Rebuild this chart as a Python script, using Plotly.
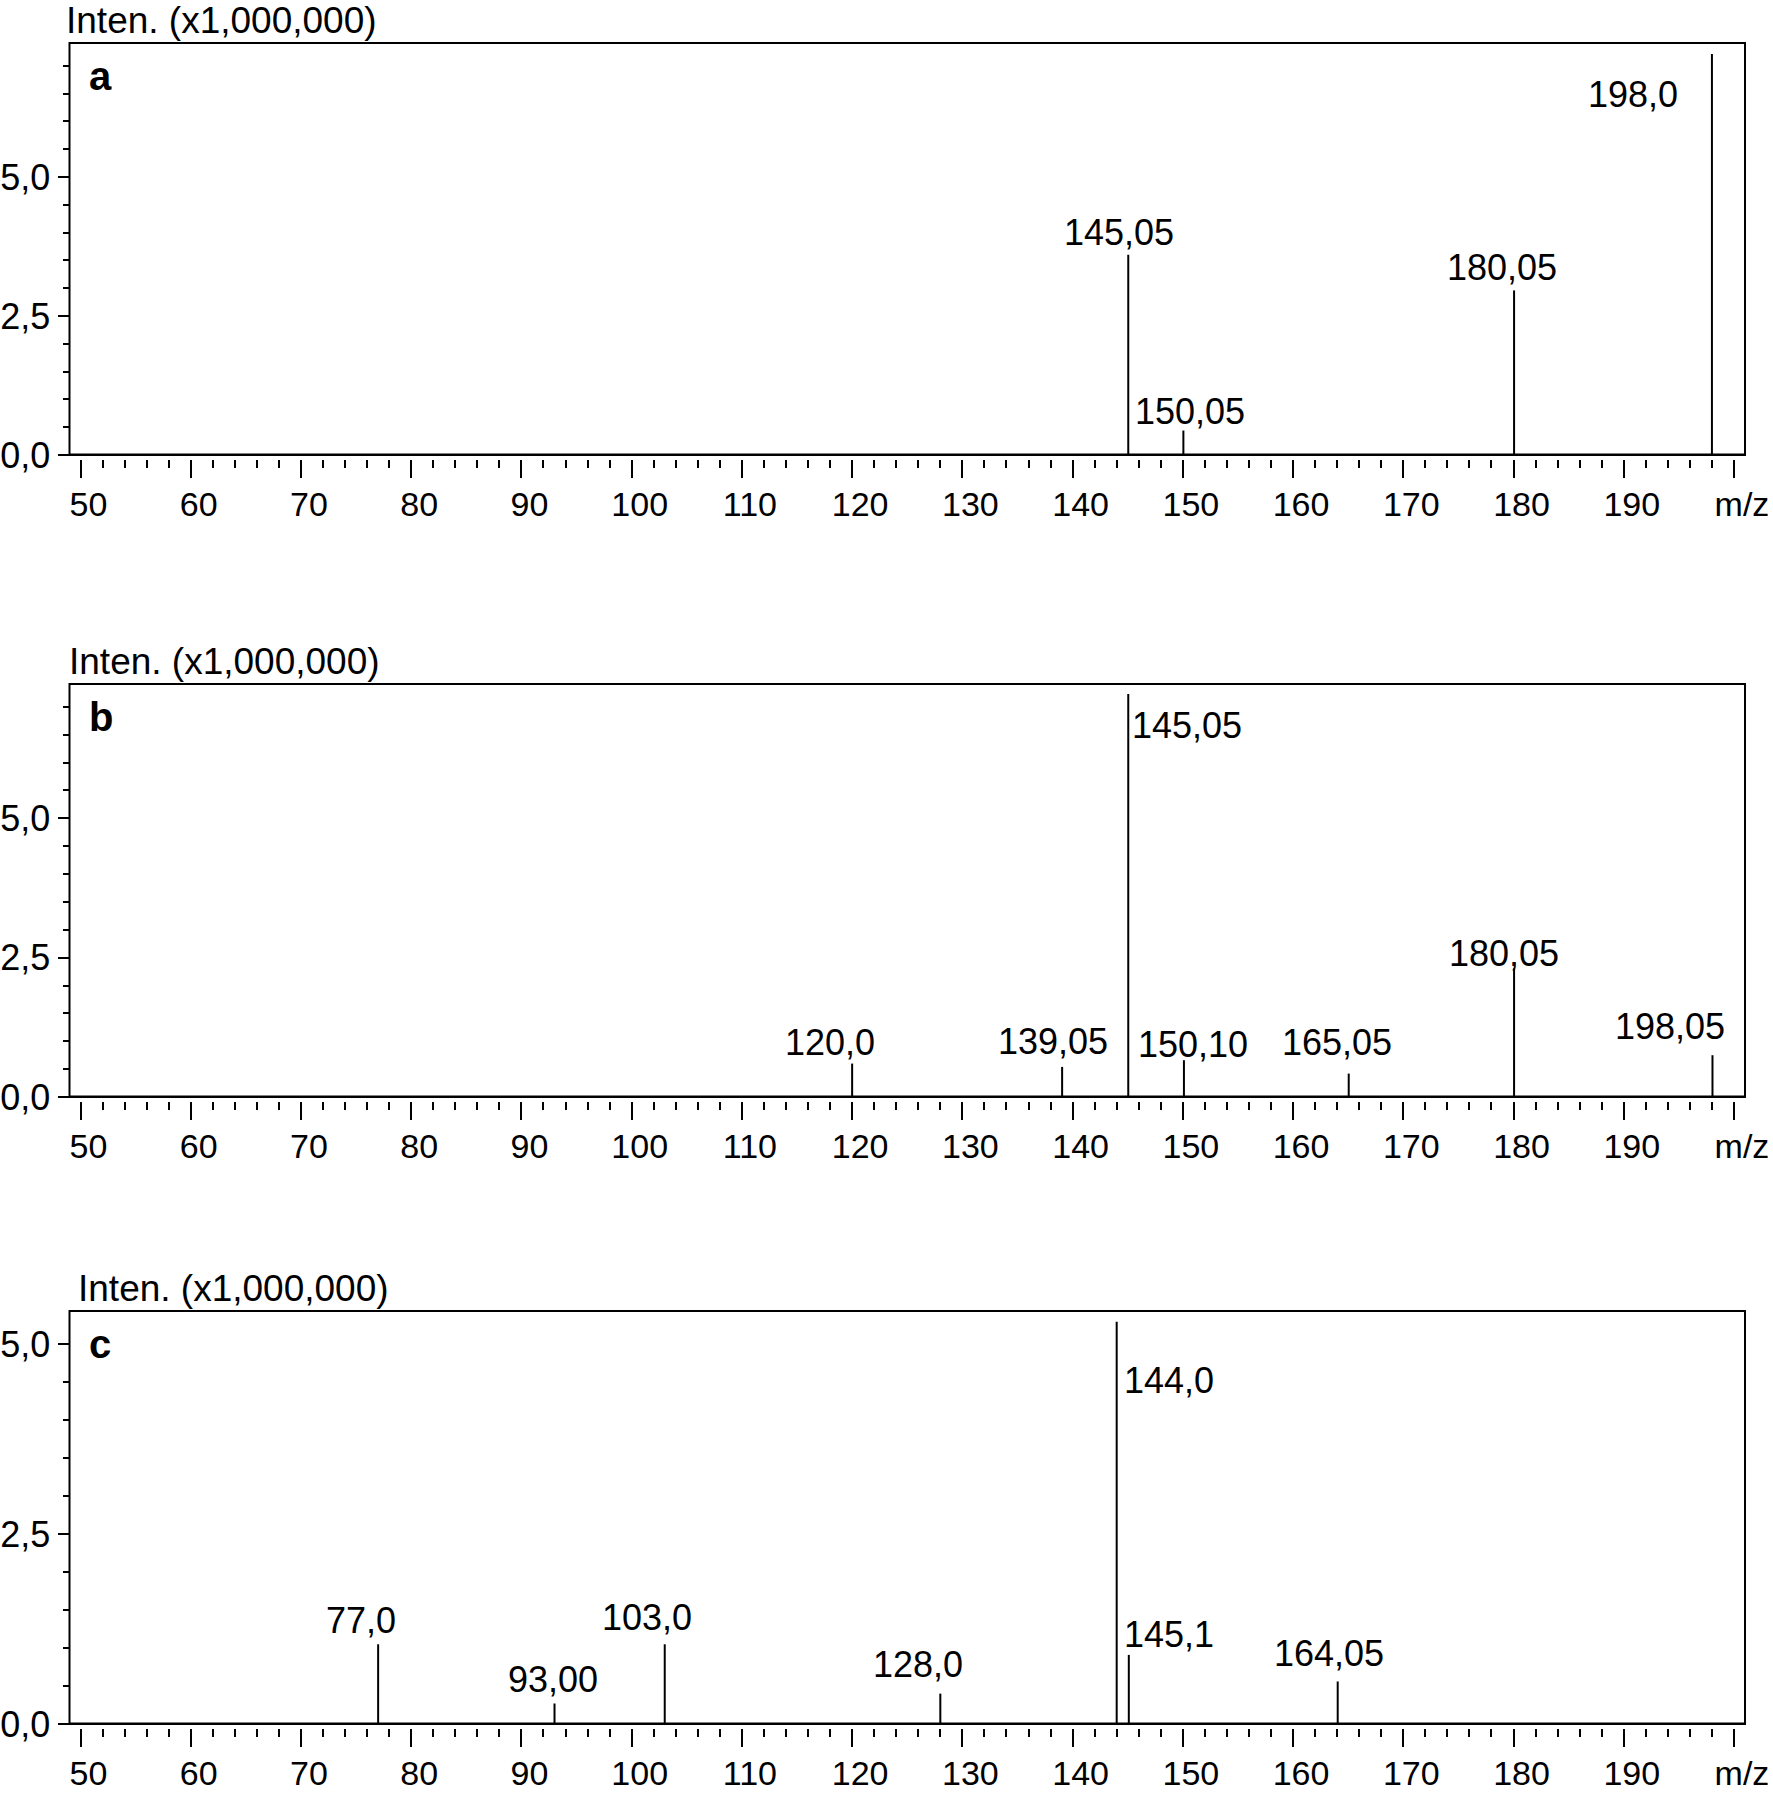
import plotly.graph_objects as go

# ---- data (intensity in units of 1,000,000) ----
mz_a = [145.05, 150.05, 180.05, 198.0]
int_a = [3.60, 0.44, 2.96, 7.21]
lbl_a = ["145,05", "150,05", "180,05", "198,0"]

mz_b = [120.0, 139.05, 145.05, 150.10, 165.05, 180.05, 198.05]
int_b = [0.60, 0.54, 7.23, 0.66, 0.42, 2.31, 0.75]
lbl_b = ["120,0", "139,05", "145,05", "150,10", "165,05", "180,05", "198,05"]

mz_c = [77.0, 93.0, 103.0, 128.0, 144.0, 145.1, 164.05]
int_c = [1.05, 0.27, 1.05, 0.40, 5.30, 0.91, 0.56]
lbl_c = ["77,0", "93,00", "103,0", "128,0", "144,0", "145,1", "164,05"]

x_tickvals = [50, 60, 70, 80, 90, 100, 110, 120, 130, 140, 150, 160, 170, 180, 190, 200]
x_ticktext = ["50", "60", "70", "80", "90", "100", "110", "120", "130", "140",
              "150", "160", "170", "180", "190", "m/z"]
y_tickvals = [0, 2.5, 5.0]
y_ticktext = ["0,0", "2,5", "5,0"]
y_max = [7.41, 7.41, 5.44]
panel_names = ["a", "b", "c"]
y_title = "Inten. (x1,000,000)"

# ---- label placement (style only): mode, x shift px, gap px ----
place_a = [("up", -9, 9), ("up", 7, 6), ("up", -12, 9), ("left", -33, 26)]
place_b = [("up", -22, 8), ("up", -9, 12), ("in", 3, 17), ("up", 9, 2),
           ("up", -12, 18), ("up", -10, 1), ("up", -42, 15)]
place_c = [("up", -17, 10), ("up", -2, 11), ("up", -18, 13), ("up", -22, 16),
           ("in", 6, 44), ("upl", -6, 7), ("up", -9, 14)]

W, H = 1773, 1795
FONT = "Arial, 'Liberation Sans', sans-serif"
# pixel boxes of the three panels (top, bottom)
boxes = [(43, 455), (684, 1097), (1311, 1724)]
x_left, x_right = 69.5, 1745
title_dx = [-4.5, -1.5, 7.5]

DESC = 8   # box bottom -> text baseline
ASC = 7    # box top -> cap top

panels = [(mz_a, int_a, lbl_a, place_a),
          (mz_b, int_b, lbl_b, place_b),
          (mz_c, int_c, lbl_c, place_c)]

fig = go.Figure()
annotations = []
shapes = []

for i, (mz, inten, lbls, place) in enumerate(panels):
    n = "" if i == 0 else str(i + 1)
    xa, ya = "x" + n, "y" + n
    top, bot = boxes[i]
    ydom = [1 - bot / H, 1 - top / H]

    xs, ys = [], []
    for m, v in zip(mz, inten):
        xs += [m, m, None]
        ys += [0, v, None]
    fig.add_trace(go.Scatter(x=xs, y=ys, mode="lines", xaxis=xa, yaxis=ya,
                             line=dict(color="black", width=2),
                             hoverinfo="skip", showlegend=False))

    fig.update_layout(**{
        "xaxis" + n: dict(
            domain=[x_left / W, x_right / W], range=[49, 201],
            anchor="free", position=1 - (bot + 4) / H,
            showline=False, showgrid=False, zeroline=False,
            tickvals=x_tickvals, ticktext=x_ticktext,
            ticks="outside", ticklen=18, tickwidth=2, tickcolor="black",
            minor=dict(dtick=2, tick0=50, ticks="outside", ticklen=8,
                       tickwidth=2, tickcolor="black", showgrid=False),
            tickfont=dict(family=FONT, size=34, color="black"),
            ticklabelshift=8, ticklabelstandoff=-3,
            ticklabeloverflow="allow",
            automargin=False, fixedrange=True),
        "yaxis" + n: dict(
            domain=ydom, range=[0, y_max[i]], anchor=xa,
            showline=False, showgrid=False, zeroline=False,
            tickvals=y_tickvals, ticktext=y_ticktext,
            ticks="outside", ticklen=11, tickwidth=2, tickcolor="black",
            minor=dict(dtick=0.5, tick0=0, ticks="outside", ticklen=6,
                       tickwidth=2, tickcolor="black", showgrid=False),
            tickfont=dict(family=FONT, size=36, color="black"),
            ticklabelstandoff=0, ticklabeloverflow="allow",
            automargin=False, fixedrange=True),
    })

    # frame and baseline
    shapes.append(dict(type="rect", xref=xa + " domain", yref=ya + " domain",
                       x0=0, x1=1, y0=0, y1=1, line=dict(color="black", width=2)))
    shapes.append(dict(type="line", xref=xa + " domain", yref=ya,
                       x0=0, x1=1, y0=0, y1=0, line=dict(color="black", width=3)))

    # axis title above the frame
    annotations.append(dict(text=y_title, xref=xa + " domain", yref=ya + " domain",
                            x=0, y=1, xanchor="left", yanchor="bottom",
                            xshift=title_dx[i], yshift=1, showarrow=False,
                            borderpad=0,
                            font=dict(family=FONT, size=37, color="black")))
    # panel letter
    annotations.append(dict(text="<b>" + panel_names[i] + "</b>",
                            xref=xa + " domain", yref=ya + " domain",
                            x=0, y=1, xanchor="left", yanchor="top",
                            xshift=18.5, yshift=-10, showarrow=False, borderpad=0,
                            font=dict(family=FONT, size=40, color="black")))

    # peak labels
    for m, v, t, (mode, dx, gap) in zip(mz, inten, lbls, place):
        a = dict(text=t, x=m, y=v, xref=xa, yref=ya, showarrow=False,
                 borderpad=0, font=dict(family=FONT, size=36, color="black"),
                 xshift=dx)
        if mode == "up":
            a.update(xanchor="center", yanchor="bottom", yshift=gap - DESC)
        elif mode == "upl":
            a.update(xanchor="left", yanchor="bottom", yshift=gap - DESC)
        elif mode == "in":
            a.update(xanchor="left", yanchor="top", yshift=-(gap - ASC))
        else:
            a.update(xanchor="right", yanchor="top", yshift=-(gap - ASC))
        annotations.append(a)

fig.update_layout(width=W, height=H,
                  margin=dict(l=0, r=0, t=0, b=0),
                  paper_bgcolor="white", plot_bgcolor="white",
                  annotations=annotations, shapes=shapes,
                  showlegend=False)

# drop the page's default body margin so the figure fills the window exactly
fig.write_html("out.html", config={"displayModeBar": False},
               post_script="document.body.style.margin = '0';")
